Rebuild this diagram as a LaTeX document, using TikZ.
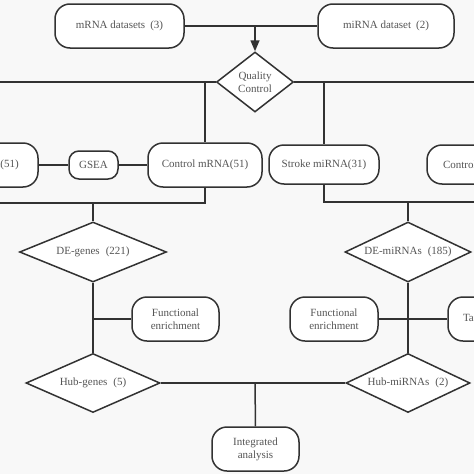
\documentclass[tikz,border=0pt]{standalone}
\usepackage{fontspec}
\setmainfont{Liberation Serif}
\usetikzlibrary{shapes.geometric,arrows.meta}
\definecolor{bgc}{RGB}{248,248,248}
\definecolor{linec}{RGB}{50,50,50}
\definecolor{txtc}{RGB}{85,85,85}
\tikzset{
  base/.style={draw=linec, line width=1.5pt, fill=white, text=txtc, inner sep=0pt,
    font=\fontsize{11}{13}\selectfont, align=center},
  rbox/.style={base, rectangle, rounded corners=15pt},
  sbox/.style={base, rectangle, rounded corners=10pt},
  dia/.style={base, diamond},
  conn/.style={draw=linec, line width=1.5pt},
}
\begin{document}
\begin{tikzpicture}[x=1pt, y=-1pt]
\useasboundingbox (0,0) rectangle (474,474);
\fill[bgc] (0,0) rectangle (474,474);
\clip (0,0) rectangle (474,474);

% nodes
\node[rbox, minimum width=129pt, minimum height=44pt] (mrna) at (119.5,26) {mRNA datasets\hspace{5pt}(3)};
\node[rbox, minimum width=136pt, minimum height=44pt] (mirna) at (386,26) {miRNA dataset\hspace{5pt}(2)};
\node[dia, shape aspect=1.28, minimum width=77pt, minimum height=60pt] (qc) at (255,82) {Quality\\Control};

\node[rbox, minimum width=120pt, minimum height=44pt] (smrna) at (-22,165) {Stroke mRNA(51)};
\node[sbox, minimum width=49pt, minimum height=28pt] (gsea) at (93.5,165) {GSEA};
\node[rbox, minimum width=114pt, minimum height=44pt] (cmrna) at (205,165) {Control mRNA(51)};
\node[rbox, minimum width=110pt, minimum height=39pt] (smirna) at (324,164.5) {Stroke miRNA(31)};
\node[rbox, minimum width=110pt, minimum height=39pt, text width=100pt, align=left] (cmirna) at (482,164.5) {\hspace{11pt}Control};

\node[dia, shape aspect=2.45, minimum width=147pt, minimum height=60pt] (degenes) at (93,252) {DE-genes\hspace{6pt}(221)};
\node[dia, shape aspect=2.1, minimum width=126pt, minimum height=60pt] (demirnas) at (408,252) {DE-miRNAs\hspace{6pt}(185)};

\node[rbox, minimum width=87pt, minimum height=44pt] (fe1) at (175.5,319) {Functional\\enrichment};
\node[rbox, minimum width=88pt, minimum height=44pt] (fe2) at (334,319) {Functional\\enrichment};
\node[rbox, minimum width=88pt, minimum height=44pt, text width=80pt, align=left] (ta) at (492,319) {\hspace{11pt}Target};

\node[dia, shape aspect=2.27, minimum width=134pt, minimum height=59pt] (hubg) at (93,383) {Hub-genes\hspace{6pt}(5)};
\node[dia, shape aspect=2.1, minimum width=124pt, minimum height=59pt] (hubm) at (408,383) {Hub-miRNAs\hspace{6pt}(2)};
\node[rbox, minimum width=87pt, minimum height=44pt] (ia) at (255.5,449) {Integrated\\analysis};

% helper coordinates
\coordinate (top) at (255,26);
\coordinate (qcl) at (-5,82);
\coordinate (qcr) at (479,82);
\coordinate (qa) at (205,82);
\coordinate (qb) at (324,82);
\coordinate (ca) at (205,203);
\coordinate (cl) at (-5,203);
\coordinate (cg) at (93,203);
\coordinate (sa) at (324,202);
\coordinate (sr) at (479,202);
\coordinate (sg) at (408,202);
\coordinate (fg) at (93,319);
\coordinate (hm) at (255,383);

% connectors
\draw[conn] (mrna.east) -- (mirna.west);
\draw[conn, -{Triangle[length=11pt,width=9pt]}] (top) -- (qc.north);
\draw[conn] (qc.west) -- (qcl);
\draw[conn] (qc.east) -- (qcr);
\draw[conn] (qa) -- (cmrna.north);
\draw[conn] (qb) -- (smirna.north);
\draw[conn] (smrna.east) -- (gsea.west);
\draw[conn] (gsea.east) -- (cmrna.west);
\draw[conn] (cmrna.south) -- (ca) -- (cl);
\draw[conn] (cg) -- (degenes.north);
\draw[conn] (smirna.south) -- (sa) -- (sr);
\draw[conn] (sg) -- (demirnas.north);
\draw[conn] (degenes.south) -- (hubg.north);
\draw[conn] (fg) -- (fe1.west);
\draw[conn] (demirnas.south) -- (hubm.north);
\draw[conn] (fe2.east) -- (ta.west);
\draw[conn] (hubg.east) -- (hubm.west);
\draw[conn] (hm) -- (ia.north);
\end{tikzpicture}
\end{document}
